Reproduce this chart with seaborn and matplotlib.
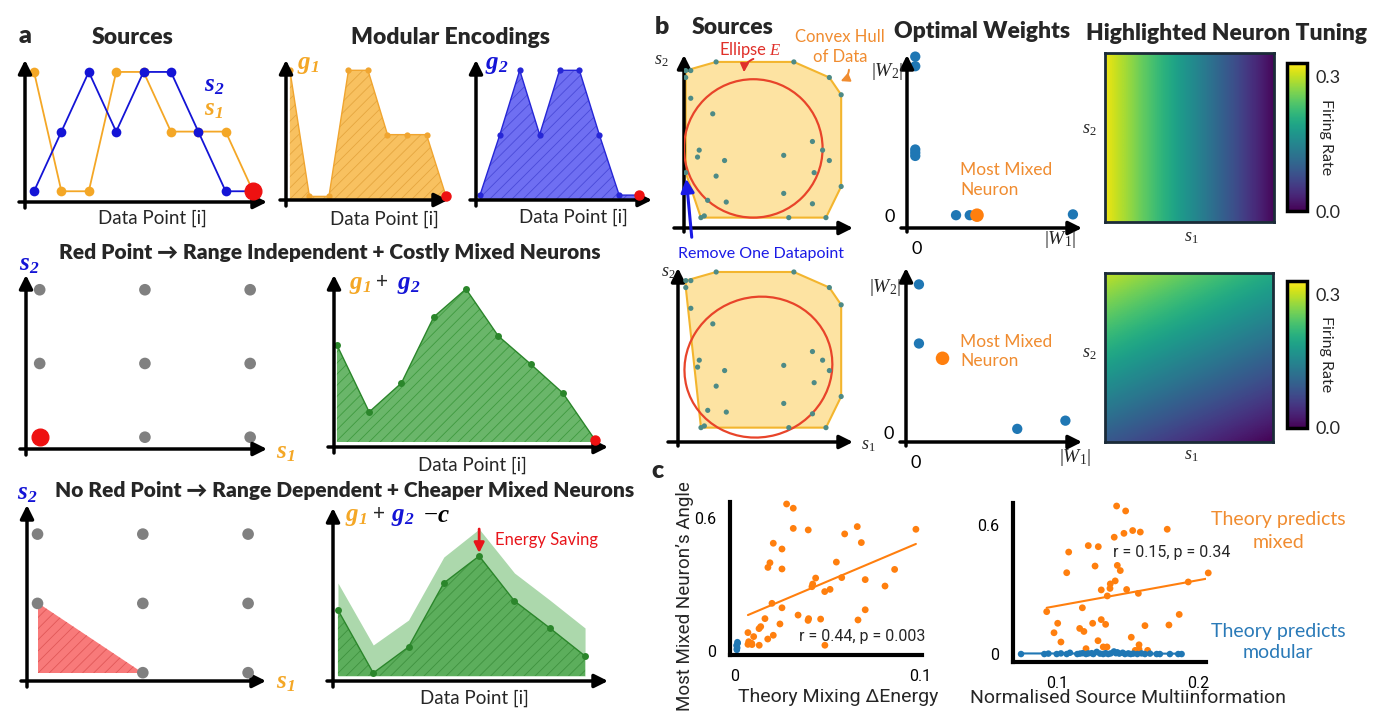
import matplotlib
matplotlib.use('Agg')
import matplotlib.pyplot as plt
from matplotlib.patches import Ellipse, Polygon, FancyArrowPatch
import seaborn as sns

# ---------------- panel a data ----------------
point_idx = [0, 1, 2, 3, 4, 5, 6, 7, 8]
src_s1 = [2, 0, 0, 2, 2, 1, 1, 1, 0]
src_s2 = [0, 1, 2, 1, 2, 2, 1, 0, 0]
enc_g1 = [1.0, 0.02, 0.02, 1.0, 1.0, 0.5, 0.5, 0.5, 0.02]
enc_g2 = [0.03, 0.5, 1.0, 0.5, 1.0, 1.0, 0.5, 0.03, 0.03]
sum_g = [0.97, 0.30, 0.59, 1.25, 1.53, 1.06, 0.78, 0.49, 0.02]
cheap_idx = [0, 1, 2, 3, 4, 5, 6, 7]
cheap_full = [0.93, 0.31, 0.56, 1.19, 1.47, 1.03, 0.76, 0.48]
cheap_minus_c = [0.66, 0.03, 0.29, 0.93, 1.20, 0.75, 0.48, 0.20]
grid_s1 = [0, 1, 2, 0, 1, 2, 0, 1, 2]
grid_s2 = [0, 0, 0, 1, 1, 1, 2, 2, 2]
triangle_idx = [3, 0, 1]

# ---------------- panel b data ----------------
data_s1 = [0.01, 0.04, 0.01, 0.19, 0.65, 0.86, 0.93, 0.04, 0.17, 0.76, 0.82, 0.86, 0.09, 0.08,
           0.24, 0.59, 0.19, 0.77, 0.01, 0.93, 0.59, 0.14, 0.25, 0.76, 0.10, 0.12, 0.62, 0.84]
data_s2 = [0.91, 0.91, 0.87, 0.96, 0.96, 0.87, 0.77, 0.75, 0.66, 0.50, 0.45, 0.39, 0.45, 0.41,
           0.39, 0.42, 0.30, 0.32, 0.32, 0.24, 0.20, 0.16, 0.15, 0.14, 0.06, 0.07, 0.06, 0.06]
removed_point = 18
ellipse_top = (0.41, 0.46, 0.82, 0.80, 0)
ellipse_bot = (0.44, 0.41, 0.88, 0.81, 15)

w1_top = [-0.01, -0.01, -0.01, -0.01, -0.01, 0.237, 0.32, 0.945]
w2_top = [0.99, 0.93, 0.41, 0.39, 0.37, 0.0, 0.0, 0.005]
mixed_top = ([0.364], [0.0])
w1_bot = [0.018, 0.018, 0.61, 0.90]
w2_bot = [0.90, 0.54, 0.02, 0.07]
mixed_bot = ([0.16], [0.45])

# firing rate at the corners of the (s1, s2) square: rows s2 = 0, 1 ; cols s1 = 0, 1
tuning_top = [[0.325, 0.005], [0.325, 0.005]]
tuning_bot = [[0.09, 0.0], [0.30, 0.20]]

# ---------------- panel c data ----------------
energy_mixed = [0.0279, 0.0315, 0.0315, 0.0396, 0.0661, 0.0978, 0.0593, 0.0207, 0.0683, 0.0254,
                0.0189, 0.0178, 0.0254, 0.0548, 0.0863, 0.0436, 0.0577, 0.0704, 0.0420, 0.0416,
                0.0514, 0.0485, 0.0811, 0.0200, 0.0254, 0.0704, 0.0341, 0.0162, 0.0398, 0.0395,
                0.0463, 0.0665, 0.0243, 0.0139, 0.0130, 0.0070, 0.0101, 0.0207, 0.0177, 0.0074,
                0.0090, 0.0070, 0.0092, 0.0131, 0.0486]
angle_mixed = [0.663, 0.644, 0.553, 0.546, 0.561, 0.549, 0.528, 0.486, 0.489, 0.460,
               0.398, 0.377, 0.370, 0.401, 0.368, 0.329, 0.331, 0.322, 0.302, 0.290,
               0.278, 0.268, 0.293, 0.215, 0.195, 0.186, 0.162, 0.146, 0.146, 0.138,
               0.144, 0.140, 0.122, 0.110, 0.101, 0.083, 0.065, 0.071, 0.054, 0.042,
               0.035, 0.030, 0.029, 0.026, 0.026]
energy_modular = [0.0010, 0.0012, 0.0008, 0.0015, 0.0010, 0.0013]
angle_modular = [0.005, 0.015, 0.025, 0.035, 0.010, 0.040]

minfo_mixed = [0.1423, 0.1487, 0.1782, 0.1537, 0.1591, 0.1475, 0.1406, 0.1222, 0.1293, 0.1083,
               0.1428, 0.1449, 0.1270, 0.1069, 0.2073, 0.1931, 0.1413, 0.1378, 0.1376, 0.1314,
               0.1494, 0.1577, 0.1357, 0.1180, 0.0927, 0.1867, 0.1314, 0.1005, 0.1253, 0.1345,
               0.0979, 0.1161, 0.1191, 0.1624, 0.1794, 0.1028, 0.1291, 0.1527, 0.1206, 0.1328,
               0.1355, 0.1582, 0.1582, 0.1555, 0.1643]
minfo_angle_mixed = [0.688, 0.665, 0.580, 0.574, 0.567, 0.561, 0.543, 0.504, 0.499, 0.474,
                     0.412, 0.388, 0.409, 0.378, 0.377, 0.335, 0.340, 0.326, 0.305, 0.298,
                     0.300, 0.282, 0.270, 0.215, 0.197, 0.184, 0.160, 0.143, 0.143, 0.138,
                     0.099, 0.119, 0.105, 0.132, 0.135, 0.056, 0.062, 0.078, 0.025, 0.033,
                     0.033, 0.043, 0.022, 0.017, 0.017]
minfo_modular = [0.0745, 0.0910, 0.0939, 0.0998, 0.1028, 0.1069, 0.1092, 0.1144, 0.1163, 0.1182,
                 0.1206, 0.1222, 0.1246, 0.1258, 0.1282, 0.1305, 0.1328, 0.1345, 0.1364, 0.1381,
                 0.1404, 0.1418, 0.1428, 0.1442, 0.1466, 0.1482, 0.1506, 0.1523, 0.1541, 0.1570,
                 0.1600, 0.1624, 0.1660, 0.1707, 0.1730, 0.1801, 0.1860, 0.1884]
minfo_angle_modular = [0.0, 0.0, 0.002, 0.0, 0.003, 0.0, 0.006, 0.0, 0.002, 0.004,
                       0.0, 0.003, 0.004, 0.0, 0.010, 0.002, 0.0, 0.004, 0.0, 0.003,
                       0.012, 0.004, 0.008, 0.002, 0.006, 0.0, 0.003, 0.0, 0.002, 0.0,
                       0.003, 0.0, 0.002, 0.0, 0.0, 0.0, 0.0, 0.0]

ORANGE_A = '#f4a726'
BLUE_A = '#1414d6'
RED = '#ee1111'
ORANGE_C = '#ff7f0e'
BLUE_C = '#1f77b4'

sns.set_style('white')
plt.rcParams['font.family'] = ['Lato', 'DejaVu Sans']
plt.rcParams['mathtext.fontset'] = 'custom'
plt.rcParams['mathtext.rm'] = 'Liberation Serif'
plt.rcParams['mathtext.it'] = 'Liberation Serif:italic'
plt.rcParams['mathtext.bf'] = 'Liberation Serif:italic:bold'
plt.rcParams['hatch.linewidth'] = 0.6

W, H = 1376, 725
fig = plt.figure(figsize=(W / 100, H / 100), dpi=100)


def px_axes(l, t, r, b):
    return fig.add_axes([l / W, 1 - b / H, (r - l) / W, (b - t) / H])


def ptext(x, y, s, **kw):
    kw.setdefault('ha', 'center')
    kw.setdefault('va', 'center')
    return fig.text(x / W, 1 - y / H, s, **kw)


def fig_arrow(x0, y0, x1, y1, color, lw=1.5, rad=0.0, head='-|>,head_length=0.5,head_width=0.25'):
    fig.add_artist(FancyArrowPatch(posA=(x0 / W, 1 - y0 / H), posB=(x1 / W, 1 - y1 / H),
                                   transform=fig.transFigure, arrowstyle=head,
                                   connectionstyle=f'arc3,rad={rad}', color=color, lw=lw,
                                   mutation_scale=10))


def axis_arrows(ax, l, t, r, b, ox=6, oy=6, lw=2.5):
    w, h = r - l, b - t
    props = dict(arrowstyle='-|>,head_length=0.8,head_width=0.4', lw=lw, color='k',
                 shrinkA=0, shrinkB=0)
    ax.annotate('', xy=(1, 0), xytext=(-ox / w, 0), xycoords='axes fraction',
                textcoords='axes fraction', arrowprops=props)
    ax.annotate('', xy=(0, 1), xytext=(0, -oy / h), xycoords='axes fraction',
                textcoords='axes fraction', arrowprops=props)


def cartoon(l, t, r, b, xlim, ylim, ox=6, oy=6):
    ax = px_axes(l, t, r, b)
    ax.set_xlim(xlim)
    ax.set_ylim(ylim)
    ax.axis('off')
    axis_arrows(ax, l, t, r, b, ox, oy)
    return ax


def convex_hull(xs, ys):
    pts = sorted(set(zip(xs, ys)))

    def cross(o, a, b):
        return (a[0] - o[0]) * (b[1] - o[1]) - (a[1] - o[1]) * (b[0] - o[0])
    lower, upper = [], []
    for p in pts:
        while len(lower) >= 2 and cross(lower[-2], lower[-1], p) <= 0:
            lower.pop()
        lower.append(p)
    for p in reversed(pts):
        while len(upper) >= 2 and cross(upper[-2], upper[-1], p) <= 0:
            upper.pop()
        upper.append(p)
    return lower[:-1] + upper[:-1]


bold_title = dict(fontsize=16.5, fontweight='heavy')
row_title = dict(fontsize=15, fontweight='heavy')
mlab = dict(fontsize=18)
dp = dict(fontsize=13.5)

# ================= panel a =================
ptext(25, 36, 'a', fontsize=18, fontweight='heavy')
ptext(133, 37, 'Sources', **bold_title)
ptext(450, 37, 'Modular Encodings', **bold_title)

ax = cartoon(25, 60, 267, 202, (-0.33, 8.51), (-0.18, 2.2))
sns.lineplot(x=point_idx, y=src_s1, color=ORANGE_A, lw=1.3, marker='o', markersize=7,
             markeredgewidth=0, ax=ax, clip_on=False)
sns.lineplot(x=point_idx, y=src_s2, color=BLUE_A, lw=1.3, marker='o', markersize=7,
             markeredgewidth=0, ax=ax, clip_on=False)
ax.plot(point_idx[-1:], src_s1[-1:], 'o', color=RED, markersize=12, clip_on=False, zorder=5)
ax.set_xlim(-0.33, 8.51)
ax.set_ylim(-0.18, 2.2)
ptext(214, 86, r'$\mathbf{s_2}$', color=BLUE_A, **mlab)
ptext(214, 110, r'$\mathbf{s_1}$', color=ORANGE_A, **mlab)
ptext(152, 218, 'Data Point [i]', **dp)

for (l, r, xmax, vals, face, edge, line, lab, lx, lcol) in [
        (286, 448, 8.1, enc_g1, '#f8c160', '#e5a640', '#f0a530', r'$\mathbf{g_1}$', 308, ORANGE_A),
        (476, 652, 8.65, enc_g2, '#6f6ff2', '#4a4ad8', '#2626d6', r'$\mathbf{g_2}$', 497, BLUE_A)]:
    ax = cartoon(l, 60, r, 200, (-0.2, xmax), (-0.008, 1.08))
    ax.fill_between(point_idx, 0, vals, facecolor=face, edgecolor=edge, hatch='///', lw=0)
    sns.lineplot(x=point_idx, y=vals, color=line, lw=1.0, marker='o', markersize=4.5,
                 markeredgewidth=0, ax=ax, clip_on=False)
    ax.plot(point_idx[-1:], vals[-1:], 'o', color=RED, markersize=6.5, clip_on=False, zorder=5)
    ax.set_xlim(-0.2, xmax)
    ax.set_ylim(-0.008, 1.08)
    ptext(lx, 64, lab, color=lcol, **mlab)
ptext(384, 219, 'Data Point [i]', **dp)
ptext(573, 217, 'Data Point [i]', **dp)

# row 2: red point
ptext(330, 252, 'Red Point \u2192 Range Independent + Costly Mixed Neurons', **row_title)
ax = cartoon(26, 275, 267, 449, (-0.13, 2.16), (-0.16, 2.2))
sns.scatterplot(x=grid_s1[1:], y=grid_s2[1:], color='#808080', s=70, edgecolor='none', ax=ax)
ax.plot(grid_s1[:1], grid_s2[:1], 'o', color=RED, markersize=12, zorder=5)
ax.set_xlim(-0.13, 2.16)
ax.set_ylim(-0.16, 2.2)
ptext(29, 264, r'$\mathbf{s_2}$', color=BLUE_A, **mlab)
ptext(286, 452, r'$\mathbf{s_1}$', color=ORANGE_A, **mlab)

ax = cartoon(334, 275, 608, 447, (-0.09, 8.4), (-0.05, 1.67))
ax.fill_between(point_idx, 0, sum_g, facecolor='#6ab66a', edgecolor='#3f9a3f', hatch='///', lw=0)
sns.lineplot(x=point_idx, y=sum_g, color='#2b862b', lw=1.0, marker='o', markersize=5,
             markeredgewidth=0, ax=ax, clip_on=False)
ax.plot(point_idx[-1:], sum_g[-1:], 'o', color=RED, markersize=6.5, clip_on=False, zorder=5)
ax.set_xlim(-0.09, 8.4)
ax.set_ylim(-0.05, 1.67)
ptext(360, 284, r'$\mathbf{g_1}$', color=ORANGE_A, **mlab)
ptext(382, 282, '+', fontsize=15)
ptext(409, 284, r'$\mathbf{g_2}$', color=BLUE_A, **mlab)
ptext(472, 465, 'Data Point [i]', **dp)

# row 3: no red point
ptext(27, 493, r'$\mathbf{s_2}$', color=BLUE_A, **mlab)
ptext(345, 491, 'No Red Point \u2192 Range Dependent + Cheaper Mixed Neurons', **row_title)
ax = cartoon(27, 505, 266, 681, (-0.1, 2.17), (-0.12, 2.42))
tri = [(grid_s1[i], grid_s2[i]) for i in triangle_idx]
ax.add_patch(Polygon(tri, closed=True, facecolor='#f87a7a', edgecolor='#e05858', hatch='///', lw=0))
sns.scatterplot(x=grid_s1[1:], y=grid_s2[1:], color='#808080', s=70, edgecolor='none', ax=ax,
                zorder=4)
ax.set_xlim(-0.1, 2.17)
ax.set_ylim(-0.12, 2.42)
ptext(286, 683, r'$\mathbf{s_1}$', color=ORANGE_A, **mlab)

ax = cartoon(333, 508, 608, 681, (-0.14, 7.65), (-0.05, 1.68))
ax.fill_between(cheap_idx, 0, cheap_full, facecolor='#acd8ac', lw=0)
ax.fill_between(cheap_idx, 0, cheap_minus_c, facecolor='#5cae5c', edgecolor='#3f923f',
                hatch='///', lw=0)
sns.lineplot(x=cheap_idx, y=cheap_minus_c, color='#2b862b', lw=1.0, marker='o', markersize=5,
             markeredgewidth=0, ax=ax, clip_on=False)
ax.annotate('', xy=(cheap_idx[4], cheap_minus_c[4] + 0.03), xytext=(cheap_idx[4], cheap_full[4]),
            arrowprops=dict(arrowstyle='-|>,head_length=0.6,head_width=0.3', color='#e8151b', lw=2,
                            shrinkA=0, shrinkB=0))
ax.set_xlim(-0.14, 7.65)
ax.set_ylim(-0.05, 1.68)
ptext(495, 540, 'Energy Saving', color='#e8151b', fontsize=12, ha='left')
ptext(356, 516, r'$\mathbf{g_1}$', color=ORANGE_A, **mlab)
ptext(379, 514, '+', fontsize=15)
ptext(403, 516, r'$\mathbf{g_2}$', color=BLUE_A, **mlab)
ptext(436, 515, r'$-\mathbf{c}$', color='k', **mlab)
ptext(474, 698, 'Data Point [i]', **dp)

# ================= panel b =================
ptext(662, 27, 'b', fontsize=18, fontweight='heavy')
ptext(733, 27, 'Sources', **bold_title)
ptext(982, 32, 'Optimal Weights', **bold_title)
ptext(1227, 33, 'Highlighted Neuron Tuning', **bold_title)

keep = [i for i in range(len(data_s1)) if i != removed_point]
for (box, xlim, ylim, idx, ell) in [
        ((684, 55, 853, 228), (0, 1), (0, 1), list(range(len(data_s1))), ellipse_top),
        ((678, 268, 853, 442), (-0.036, 1.0), (-0.023, 0.983), keep, ellipse_bot)]:
    ax = px_axes(*box)
    ax.axis('off')
    axis_arrows(ax, *box, ox=10, oy=4)
    xs = [data_s1[i] for i in idx]
    ys = [data_s2[i] for i in idx]
    hull = convex_hull(xs, ys)
    ax.add_patch(Polygon(hull, closed=True, facecolor='#fde3a2', edgecolor='#f3b52e', lw=1.5))
    ax.add_patch(Ellipse((ell[0], ell[1]), ell[2], ell[3], angle=ell[4], fill=False,
                         edgecolor='#e8442a', lw=1.6, zorder=3))
    sns.scatterplot(x=xs, y=ys, color='#4d8a86', s=14, edgecolor='none', ax=ax, zorder=4)
    ax.set_xlim(*xlim)
    ax.set_ylim(*ylim)

ptext(661, 61, r'$s_2$', fontsize=13)
ptext(668, 273, r'$s_2$', fontsize=13)
ptext(868, 446, r'$s_1$', fontsize=13)
ptext(750, 50, r'Ellipse $E$', color='#e0302a', fontsize=12)
fig_arrow(756, 58, 744, 75, '#e0302a', lw=1.4, rad=0.4)
ptext(840, 37, 'Convex Hull', color='#f08c30', fontsize=12)
ptext(840, 57, 'of Data', color='#f08c30', fontsize=12)
fig_arrow(849, 67, 838, 82, '#f08c30', lw=1.4, rad=-0.4)
fig_arrow(692, 240, 686, 176, '#1a1ae6', lw=2.2,
          head='-|>,head_length=0.8,head_width=0.4')
ptext(761, 254, 'Remove One Datapoint', color='#1a1ae6', fontsize=11.5)

for (box, ylim, w1, w2, mixed, txt_y, wl) in [
        ((907, 55, 1082, 228), (-0.08, 1.0), w1_top, w2_top, mixed_top, (170, 190), (887, 72, 1060, 240)),
        ((906, 268, 1082, 442), (-0.06, 1.0), w1_bot, w2_bot, mixed_bot, (342, 361), (885, 288, 1075, 458))]:
    ax = px_axes(*box)
    for sp in ax.spines.values():
        sp.set_visible(False)
    axis_arrows(ax, *box, ox=6, oy=4)
    sns.scatterplot(x=w1, y=w2, color=BLUE_C, s=55, edgecolor='none', ax=ax, clip_on=False)
    sns.scatterplot(x=mixed[0], y=mixed[1], color=ORANGE_C, s=95, edgecolor='none', ax=ax,
                    clip_on=False, zorder=5)
    ax.set_xlim(-0.06, 1.0)
    ax.set_ylim(*ylim)
    ax.set_xticks([0])
    ax.set_yticks([0])
    ax.set_xticklabels(['0'])
    ax.set_yticklabels(['0'])
    ax.tick_params(length=6, width=1.2, labelsize=13, pad=3, colors='k')
    ptext(wl[0], wl[1], r'$|W_2|$', fontsize=14)
    ptext(wl[2], wl[3], r'$|W_1|$', fontsize=14)
    ptext(960, txt_y[0], 'Most Mixed', color='#f08c30', fontsize=12.5, ha='left')
    ptext(960, txt_y[1], 'Neuron', color='#f08c30', fontsize=12.5, ha='left')

for (box, cbox, tune, s2y, s1y) in [
        ((1105, 53, 1274, 222), (1287, 63, 1307, 211), tuning_top, 130, 238),
        ((1105, 273, 1273, 442), (1287, 281, 1307, 428), tuning_bot, 354, 456)]:
    ax = px_axes(*box)
    # corner values sit on the corners of the square; interpolation is done on the data
    img = ax.imshow(tune, origin='lower', extent=(-0.5, 1.5, -0.5, 1.5), cmap='viridis',
                    vmin=0, vmax=0.33, interpolation='bilinear', interpolation_stage='data',
                    aspect='auto')
    ax.set_xlim(0, 1)
    ax.set_ylim(0, 1)
    ax.set_xticks([])
    ax.set_yticks([])
    for sp in ax.spines.values():
        sp.set_visible(True)
        sp.set_color('#1b2b38')
        sp.set_linewidth(2)
    cax = px_axes(*cbox)
    cb = fig.colorbar(img, cax=cax, ticks=[0.0, 0.3])
    cb.ax.set_yticklabels(['0.0', '0.3'])
    cb.ax.tick_params(length=0, labelsize=13, pad=6)
    cb.outline.set_linewidth(2.5)
    cb.outline.set_edgecolor('k')
    ptext(1326, (cbox[1] + cbox[3]) / 2, 'Firing Rate', rotation=270, fontsize=11.5)
    ptext(1089, s2y, r'$s_2$', fontsize=13)
    ptext(1191, s1y, r'$s_1$', fontsize=13)

# ================= panel c =================
ptext(657, 471, 'c', fontsize=18, fontweight='heavy')
tick_font = dict(family=['Roboto', 'DejaVu Sans'], fontsize=11.5)


def style_c(ax, xticks, xlabels, ylim):
    sns.despine(ax=ax)
    for side in ['left', 'bottom']:
        ax.spines[side].set_linewidth(3)
        ax.spines[side].set_color('k')
    ax.set_ylim(*ylim)
    ax.set_xticks(xticks)
    ax.set_xticklabels(xlabels, **tick_font)
    ax.set_yticks([0, 0.6])
    ax.set_yticklabels(['0', '0.6'], **tick_font)
    ax.tick_params(length=6, width=3, pad=4, colors='k')
    ax.set_xlabel('')
    ax.set_ylabel('')


ax = px_axes(730, 502, 922, 655)
sns.regplot(x=energy_mixed, y=angle_mixed, ci=None, color=ORANGE_C, ax=ax,
            scatter_kws=dict(s=24, edgecolor='none', alpha=1, clip_on=False),
            line_kws=dict(lw=1.5))
sns.scatterplot(x=energy_modular, y=angle_modular, color=BLUE_C, s=22, edgecolor='none', ax=ax,
                clip_on=False)
ax.set_xlim(-0.0027, 0.1011)
style_c(ax, [0, 0.1], ['0', '0.1'], (-0.018, 0.672))
ptext(925, 637, 'r = 0.44, p = 0.003', ha='right', **tick_font)

ax = px_axes(1013, 503, 1206, 662)
sns.regplot(x=minfo_mixed, y=minfo_angle_mixed, ci=None, color=ORANGE_C, ax=ax,
            scatter_kws=dict(s=24, edgecolor='none', alpha=1, clip_on=False),
            line_kws=dict(lw=1.5))
sns.regplot(x=minfo_modular, y=minfo_angle_modular, ci=None, color=BLUE_C, ax=ax,
            scatter_kws=dict(s=22, edgecolor='none', alpha=1, clip_on=False),
            line_kws=dict(lw=1.5))
ax.set_xlim(0.0688, 0.2057)
style_c(ax, [0.1, 0.2], ['0.1', '0.2'], (-0.037, 0.702))
ptext(1113, 552, 'r = 0.15, p = 0.34', ha='left', **tick_font)

ptext(685, 596, 'Most Mixed Neuron\u2019s Angle', rotation=90, fontsize=13.5,
      family=['Roboto', 'DejaVu Sans'])
ptext(838, 697, 'Theory Mixing \u0394Energy', fontsize=14, family=['Roboto', 'DejaVu Sans'])
ptext(1128, 698, 'Normalised Source Multiinformation', fontsize=14,
      family=['Roboto', 'DejaVu Sans'])
ptext(1278, 520, 'Theory predicts', color='#f08c30', fontsize=14)
ptext(1278, 543, 'mixed', color='#f08c30', fontsize=14)
ptext(1278, 631, 'Theory predicts', color='#2a7ab8', fontsize=14)
ptext(1278, 653, 'modular', color='#2a7ab8', fontsize=14)

fig.savefig('out.png', dpi=100)
